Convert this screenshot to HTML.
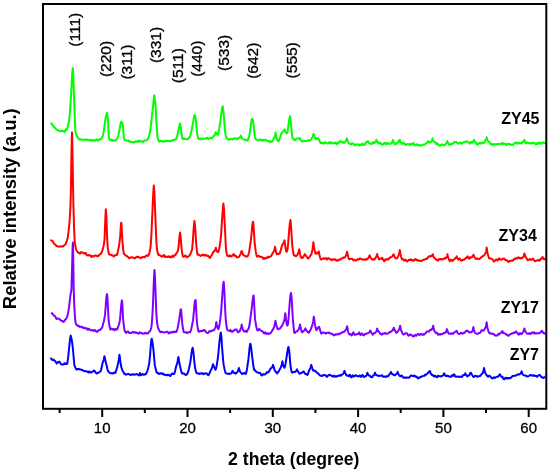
<!DOCTYPE html>
<html><head><meta charset="utf-8"><style>
html,body{margin:0;padding:0;background:#fff;}
svg{display:block;}
text{font-family:"Liberation Sans",Arial,sans-serif;}
</style></head><body>
<svg width="550" height="472" viewBox="0 0 550 472">
<rect width="550" height="472" fill="#fff"/>
<defs><clipPath id="c"><rect x="44" y="5" width="501.5" height="403"/></clipPath></defs>
<g clip-path="url(#c)" fill="none" stroke-width="2" stroke-linejoin="round" stroke-linecap="round">
<path stroke="#00ff00" d="M51.2,123.3 L51.8,124.3 L52.4,124.9 L53.0,125.4 L53.6,126.5 L54.2,127.2 L54.8,127.6 L55.4,128.3 L56.0,128.9 L56.6,129.4 L57.2,129.9 L57.8,130.3 L58.4,130.4 L59.0,130.6 L59.6,131.0 L60.2,131.4 L60.8,131.3 L61.4,130.9 L62.0,130.7 L62.6,130.9 L63.2,131.1 L63.8,131.3 L64.4,132.0 L65.0,131.4 L65.6,129.6 L66.2,129.9 L66.8,129.4 L67.4,127.8 L68.0,125.5 L68.6,122.8 L69.2,119.7 L69.8,113.8 L70.4,105.1 L71.0,96.1 L71.6,85.2 L72.2,73.9 L72.8,68.1 L73.4,78.0 L74.0,96.7 L74.3,105.0 L74.6,112.9 L75.2,128.4 L75.5,131.9 L75.8,132.9 L76.4,134.7 L77.0,136.3 L77.6,137.3 L78.2,138.1 L78.8,139.0 L79.4,139.6 L80.0,139.5 L80.6,139.2 L81.2,139.6 L81.8,139.7 L82.4,139.8 L83.0,139.7 L83.6,140.1 L84.2,139.9 L84.8,139.3 L85.4,139.6 L86.0,140.1 L86.6,140.1 L87.2,139.5 L87.8,139.4 L88.4,139.9 L89.0,140.1 L89.6,140.4 L90.2,140.3 L90.8,139.6 L91.4,140.3 L92.0,140.9 L92.6,140.2 L93.2,139.9 L93.8,140.5 L94.4,140.8 L95.0,140.7 L95.6,140.0 L96.2,139.4 L96.8,139.8 L97.4,140.2 L98.0,140.7 L98.6,140.1 L99.2,139.2 L99.8,139.1 L100.4,139.5 L101.0,139.0 L101.4,138.3 L101.6,138.2 L102.2,137.3 L102.8,135.9 L103.1,135.0 L103.4,133.5 L104.0,129.3 L104.6,124.6 L105.0,122.0 L105.2,120.7 L105.8,117.2 L106.4,114.3 L106.9,112.8 L107.6,116.6 L108.2,123.0 L108.7,136.1 L109.4,139.1 L109.6,139.6 L110.0,140.1 L110.6,140.0 L111.2,139.5 L111.8,139.7 L112.4,140.9 L113.0,140.6 L113.6,140.1 L113.8,140.4 L114.2,140.6 L114.8,140.7 L115.4,140.3 L116.0,139.7 L116.5,139.3 L117.2,138.6 L117.5,138.1 L117.8,137.6 L118.4,135.3 L119.0,132.1 L119.2,131.0 L119.6,129.2 L120.2,125.7 L120.4,124.4 L120.8,122.7 L121.3,121.6 L122.0,122.4 L122.6,124.1 L123.2,128.9 L123.8,137.8 L124.4,139.3 L125.0,140.2 L125.5,140.3 L126.2,140.3 L126.8,140.4 L127.4,140.6 L128.0,140.8 L128.6,140.5 L129.2,140.9 L129.8,141.9 L130.0,141.8 L130.4,141.6 L131.0,141.9 L131.6,141.7 L132.2,141.9 L132.8,142.3 L133.4,142.2 L134.0,141.8 L134.6,142.2 L135.2,141.8 L135.8,141.2 L136.4,141.2 L137.0,141.7 L137.6,142.1 L138.0,141.4 L138.2,141.0 L138.8,140.5 L139.4,141.2 L140.0,141.8 L140.6,141.3 L141.2,141.0 L141.8,141.3 L142.4,141.6 L143.0,141.9 L143.2,142.1 L143.6,141.3 L144.2,140.6 L144.8,140.5 L145.4,140.5 L146.0,140.4 L146.6,140.2 L147.2,139.6 L147.4,139.2 L147.8,139.2 L148.4,137.6 L148.6,137.0 L149.0,136.0 L149.6,133.7 L150.2,130.5 L150.5,128.6 L150.8,126.6 L151.4,121.4 L152.0,115.5 L152.3,112.5 L152.6,109.9 L153.2,104.8 L153.8,98.2 L154.2,95.3 L154.4,96.1 L155.0,100.2 L155.4,104.0 L155.6,106.4 L156.2,117.9 L156.6,124.9 L156.8,127.9 L157.4,135.8 L157.8,138.5 L158.0,139.0 L158.6,140.7 L159.2,141.6 L159.7,141.0 L160.4,141.0 L161.0,141.0 L161.6,140.9 L162.2,141.1 L162.8,141.9 L163.4,141.3 L164.0,141.2 L164.6,141.5 L165.0,141.2 L165.2,141.1 L165.8,141.1 L166.4,141.0 L167.0,140.7 L167.6,140.9 L168.2,141.1 L168.8,141.1 L169.4,141.1 L170.0,141.1 L170.6,141.3 L171.2,140.9 L171.8,140.6 L172.0,140.4 L172.4,140.1 L173.0,140.0 L173.6,140.2 L174.2,139.6 L174.8,139.4 L175.4,139.5 L176.0,139.0 L176.4,138.2 L176.6,137.7 L177.2,136.1 L177.8,133.3 L178.4,130.3 L179.0,127.6 L179.6,124.7 L180.0,123.4 L180.2,124.2 L180.8,127.3 L181.4,132.0 L182.0,136.5 L182.6,139.3 L183.2,138.8 L183.8,138.3 L184.4,138.9 L185.0,139.0 L185.6,139.1 L186.2,139.2 L186.5,139.2 L186.8,139.2 L187.4,139.0 L188.0,138.9 L188.6,138.2 L189.2,137.5 L189.5,137.5 L189.8,137.1 L190.4,135.2 L191.0,132.9 L191.6,130.2 L192.2,127.1 L192.8,123.9 L193.4,120.3 L194.0,117.1 L194.6,115.1 L194.9,115.2 L195.2,115.7 L195.8,119.9 L196.4,126.4 L197.0,132.6 L197.6,136.2 L198.2,138.3 L198.8,139.0 L199.0,138.7 L199.4,139.3 L200.0,138.8 L200.6,138.2 L201.2,139.1 L201.8,139.4 L202.4,138.8 L203.0,138.8 L203.6,138.8 L204.2,138.6 L204.8,138.8 L205.4,138.8 L206.0,138.1 L206.6,137.8 L207.2,138.0 L207.8,138.3 L208.0,138.8 L208.4,138.9 L209.0,138.8 L209.6,138.5 L210.2,138.1 L210.8,137.8 L211.4,138.2 L212.0,138.2 L212.6,137.2 L213.2,136.4 L213.8,136.0 L214.4,135.4 L214.9,134.9 L215.6,132.3 L216.2,133.4 L216.8,134.3 L217.4,134.7 L217.8,134.9 L218.0,134.6 L218.6,132.3 L219.2,128.8 L219.8,124.7 L220.0,123.5 L220.4,120.9 L221.0,116.2 L221.6,111.4 L222.2,107.8 L222.7,106.3 L223.4,110.8 L224.0,118.0 L224.6,126.1 L225.2,132.6 L225.5,134.4 L225.8,135.5 L226.4,137.3 L227.0,138.4 L227.3,138.6 L227.6,138.9 L228.2,139.6 L228.8,139.8 L229.4,139.4 L230.0,139.0 L230.6,138.5 L231.2,139.0 L231.8,139.2 L232.4,139.6 L233.0,139.4 L233.6,138.2 L234.2,138.4 L234.8,138.6 L235.4,138.8 L236.0,138.3 L236.6,138.5 L237.2,139.0 L237.8,139.0 L238.4,138.4 L239.0,137.7 L239.6,137.5 L240.1,137.5 L240.8,135.6 L241.4,137.1 L242.0,138.2 L242.6,139.0 L243.2,139.4 L243.8,139.6 L244.4,139.7 L245.0,139.5 L245.6,139.8 L246.2,139.9 L246.8,140.4 L247.4,140.5 L247.7,139.8 L248.0,139.7 L248.6,138.2 L249.2,136.0 L249.8,132.8 L250.4,128.7 L251.0,124.3 L251.6,119.7 L252.1,118.7 L252.8,119.6 L253.4,122.9 L254.0,128.1 L254.6,135.4 L254.8,136.7 L255.2,138.1 L255.8,139.2 L256.4,139.4 L257.0,139.6 L257.6,140.0 L258.2,140.4 L258.8,140.2 L259.4,140.0 L260.0,139.4 L260.6,139.4 L261.2,139.9 L261.8,140.5 L262.4,140.2 L263.0,139.8 L263.6,140.2 L264.2,140.5 L264.5,140.1 L264.8,139.9 L265.4,139.8 L266.0,139.7 L266.6,140.5 L267.2,140.9 L267.8,141.1 L268.4,141.4 L269.0,141.1 L269.6,141.1 L270.0,141.9 L270.2,142.3 L270.8,141.5 L271.4,141.5 L272.0,141.5 L272.6,140.8 L273.2,140.0 L273.8,138.5 L274.4,137.3 L274.8,136.9 L275.0,136.0 L275.5,132.5 L276.2,136.6 L276.8,138.7 L277.4,140.3 L278.0,141.0 L278.2,141.3 L278.6,140.9 L279.2,139.7 L279.8,138.1 L280.4,136.3 L281.0,134.6 L281.6,133.1 L281.8,132.8 L282.2,132.4 L282.8,131.6 L283.4,131.1 L283.8,130.8 L284.0,130.2 L284.5,129.2 L285.2,131.2 L285.8,132.4 L286.4,133.2 L286.9,133.3 L287.6,131.5 L288.2,127.2 L288.8,122.3 L289.4,118.3 L290.0,116.2 L290.6,119.5 L291.2,125.7 L291.8,132.6 L292.4,137.6 L292.7,138.4 L293.0,138.2 L293.6,138.7 L294.2,139.5 L294.8,140.2 L295.4,139.8 L296.0,139.1 L296.4,138.8 L296.6,138.6 L297.2,138.4 L297.8,138.5 L298.4,138.7 L298.9,138.8 L299.6,138.0 L300.2,139.2 L300.8,140.3 L301.4,140.8 L302.0,141.5 L302.6,141.6 L303.2,141.0 L303.8,141.1 L304.4,141.0 L305.0,140.8 L305.6,140.9 L306.2,141.1 L306.8,141.1 L307.3,140.6 L308.0,140.5 L308.6,140.2 L309.2,140.5 L309.8,140.5 L310.4,140.0 L311.0,139.4 L311.6,138.7 L312.2,137.6 L312.8,136.8 L313.4,133.9 L313.6,133.9 L314.0,134.8 L314.3,136.4 L314.6,136.8 L315.2,138.1 L315.8,139.1 L316.4,139.0 L317.0,138.3 L317.6,137.9 L318.2,138.3 L318.8,139.1 L319.4,140.5 L320.0,142.0 L320.6,143.1 L320.9,143.0 L321.2,142.4 L321.8,142.9 L322.4,143.0 L323.0,143.1 L323.6,143.8 L324.2,142.8 L324.8,142.1 L325.4,142.6 L326.0,143.3 L326.6,143.1 L327.2,143.4 L327.8,143.6 L328.4,143.0 L329.0,142.3 L329.6,142.8 L330.0,143.4 L330.2,142.5 L330.8,142.2 L331.4,142.9 L332.0,143.4 L332.6,143.4 L333.2,143.1 L333.8,142.7 L334.4,143.2 L335.0,143.0 L335.6,142.5 L336.2,143.7 L336.8,144.1 L337.4,142.9 L338.0,142.9 L338.6,143.1 L339.2,141.8 L339.8,141.0 L340.4,141.4 L341.0,141.8 L341.6,142.2 L342.0,142.6 L342.2,142.4 L342.8,141.9 L343.4,142.5 L344.0,142.9 L344.6,142.5 L345.2,141.7 L345.8,141.0 L346.3,140.4 L347.0,138.4 L347.6,140.7 L348.2,142.1 L348.8,143.3 L349.4,143.9 L350.0,143.6 L350.6,144.1 L351.2,144.5 L351.8,143.7 L352.4,143.5 L353.0,143.4 L353.6,143.5 L354.2,144.7 L354.8,145.4 L355.4,145.1 L356.0,144.6 L356.6,144.4 L357.2,144.3 L357.8,144.3 L358.4,144.9 L359.0,145.4 L359.6,145.0 L360.0,144.3 L360.2,144.3 L360.8,144.7 L361.4,145.3 L362.0,144.4 L362.6,143.5 L363.2,144.3 L363.8,145.1 L364.4,144.7 L365.0,144.3 L365.6,143.4 L366.2,142.2 L366.8,141.8 L367.3,142.0 L368.0,141.3 L368.6,142.7 L369.2,143.2 L369.8,143.4 L370.4,143.8 L371.0,143.6 L371.6,143.6 L372.2,144.0 L372.8,143.1 L373.0,142.1 L373.4,143.0 L374.0,143.1 L374.6,142.2 L375.2,142.3 L375.7,142.0 L376.4,139.8 L377.0,141.5 L377.6,141.9 L378.2,142.7 L378.8,143.5 L379.4,143.3 L380.0,142.6 L380.6,142.9 L381.2,144.1 L381.8,144.8 L382.0,144.3 L382.4,144.3 L383.0,144.6 L383.6,143.9 L384.2,143.1 L384.8,142.7 L385.4,143.5 L386.0,144.3 L386.6,143.3 L387.2,143.0 L387.8,142.9 L388.0,143.6 L388.4,144.0 L389.0,143.7 L389.6,143.8 L390.2,143.6 L390.8,143.4 L391.4,143.3 L392.0,142.6 L392.3,141.8 L392.6,141.0 L393.0,139.9 L393.2,140.6 L393.7,142.1 L394.4,143.7 L395.0,144.2 L395.6,143.7 L396.0,143.8 L396.2,143.9 L396.8,142.9 L397.4,142.7 L398.0,142.6 L398.6,141.6 L398.9,141.1 L399.2,140.5 L399.6,139.9 L399.8,140.0 L400.3,141.8 L401.0,142.8 L401.6,143.4 L402.2,143.9 L402.8,143.6 L403.0,142.9 L403.4,142.7 L404.0,143.1 L404.6,144.0 L405.2,144.9 L405.8,144.8 L406.4,144.3 L407.0,144.1 L407.6,144.3 L408.2,144.5 L408.8,144.3 L409.4,144.0 L410.0,144.7 L410.6,144.9 L411.2,144.0 L411.8,143.8 L412.4,143.6 L413.0,144.0 L413.6,143.6 L414.0,143.2 L414.2,144.4 L414.8,145.4 L415.4,145.2 L416.0,145.2 L416.6,144.7 L417.2,144.2 L417.8,145.0 L418.4,145.0 L419.0,144.9 L419.6,145.7 L420.0,145.8 L420.2,145.6 L420.8,145.7 L421.4,145.3 L422.0,145.2 L422.6,144.9 L423.2,144.6 L423.8,144.4 L424.4,144.6 L425.0,144.5 L425.6,144.0 L426.2,143.1 L426.8,142.8 L427.4,142.4 L428.0,141.2 L428.6,141.4 L429.2,142.4 L429.8,142.4 L430.4,142.1 L431.0,141.5 L431.6,141.1 L431.9,140.5 L432.2,139.8 L432.6,138.3 L432.8,139.7 L433.3,141.3 L434.0,141.8 L434.6,141.6 L435.2,142.3 L435.8,143.4 L436.0,143.9 L436.4,143.7 L437.0,143.3 L437.6,143.6 L438.2,144.8 L438.8,144.8 L439.4,145.6 L440.0,146.0 L440.6,145.2 L441.2,144.7 L441.8,144.6 L442.2,144.4 L442.4,144.8 L443.0,145.0 L443.6,145.1 L444.2,145.3 L444.8,145.0 L445.4,144.2 L446.0,143.7 L446.6,142.7 L447.2,141.1 L447.8,142.1 L448.0,142.5 L448.4,143.5 L449.0,144.5 L449.6,144.9 L450.2,144.8 L450.4,144.5 L450.8,144.0 L451.4,143.8 L452.0,144.1 L452.6,143.7 L453.2,143.1 L453.8,142.8 L454.4,142.1 L455.0,142.0 L455.5,142.0 L456.2,141.9 L456.8,142.2 L457.4,143.1 L458.0,143.6 L458.6,143.7 L459.2,143.2 L459.8,142.6 L460.4,142.6 L460.7,142.7 L461.0,143.5 L461.6,143.9 L462.2,143.3 L462.8,142.6 L463.4,142.4 L464.0,142.2 L464.6,141.7 L465.2,141.9 L465.8,141.9 L466.4,141.5 L466.8,141.5 L467.0,141.6 L467.6,141.5 L468.2,141.9 L468.8,142.7 L469.4,143.3 L470.0,143.6 L470.6,142.3 L471.2,141.9 L471.8,142.8 L472.4,142.7 L473.0,141.6 L473.3,141.1 L473.6,141.0 L474.0,139.8 L474.2,140.6 L474.7,141.5 L475.4,142.3 L476.0,142.6 L476.6,143.6 L477.1,144.6 L477.8,144.2 L478.4,144.0 L479.0,143.4 L479.6,142.8 L480.2,142.8 L480.8,143.5 L481.4,143.6 L482.0,143.4 L482.3,142.6 L482.6,142.5 L483.2,142.7 L483.8,143.0 L484.4,142.5 L485.0,141.1 L485.6,139.9 L486.1,139.3 L486.8,137.4 L487.4,139.9 L488.0,141.0 L488.6,141.8 L489.2,142.0 L489.8,142.7 L490.4,144.0 L491.0,144.4 L491.6,144.1 L492.2,143.9 L492.8,144.8 L493.4,145.1 L494.0,144.2 L494.6,144.1 L495.2,144.3 L495.8,144.5 L496.4,144.5 L497.0,144.1 L497.6,143.9 L498.2,144.0 L498.8,143.9 L499.4,143.9 L500.0,144.1 L500.6,144.1 L501.2,143.6 L501.8,143.6 L502.1,143.9 L502.4,143.3 L502.8,142.9 L503.0,143.3 L503.5,143.9 L504.2,143.9 L504.8,143.8 L505.4,143.6 L506.0,144.4 L506.6,145.1 L507.2,144.5 L507.8,143.8 L508.4,144.0 L509.0,144.0 L509.6,144.2 L510.0,144.2 L510.2,144.2 L510.8,144.8 L511.4,144.8 L512.0,144.7 L512.6,144.8 L513.2,144.9 L513.8,144.3 L514.4,143.2 L515.0,142.8 L515.6,142.3 L516.2,142.7 L516.8,143.4 L517.2,143.7 L517.4,143.5 L518.0,142.8 L518.6,142.7 L519.2,142.9 L519.8,143.4 L520.4,143.2 L521.0,143.1 L521.6,143.6 L522.2,142.5 L522.8,141.6 L523.4,141.6 L523.7,141.6 L524.0,140.7 L524.4,139.9 L524.6,140.3 L525.1,141.7 L525.8,142.9 L526.4,143.3 L527.0,142.7 L527.5,142.3 L528.2,142.6 L528.8,143.2 L529.4,143.4 L530.0,143.2 L530.6,142.9 L531.2,143.5 L531.8,143.6 L532.4,142.7 L533.0,142.7 L533.6,143.1 L534.2,142.9 L534.8,143.2 L535.4,144.1 L536.0,144.2 L536.6,143.5 L537.2,143.2 L537.7,144.0 L538.4,143.4 L539.0,142.6 L539.6,142.5 L540.2,143.1 L540.8,144.0 L541.4,143.6 L542.0,142.7 L542.6,142.2 L543.2,142.9 L543.8,142.6 L544.4,142.7 L545.0,143.3 L545.6,143.3 L546.0,143.7"/>
<path stroke="#ff0000" d="M51.2,240.2 L51.8,240.7 L52.4,241.1 L53.0,241.6 L53.6,243.2 L54.2,244.0 L54.5,243.9 L54.8,244.2 L55.4,244.8 L56.0,245.3 L56.6,246.1 L57.2,246.3 L57.8,246.2 L58.0,246.2 L58.4,246.6 L59.0,246.8 L59.6,246.7 L60.2,246.4 L60.8,246.3 L61.4,246.3 L62.0,246.8 L62.6,246.6 L63.2,246.2 L63.8,245.6 L64.4,244.9 L65.0,244.9 L65.6,244.2 L66.2,242.4 L66.8,240.8 L67.4,239.0 L68.0,236.0 L68.6,231.2 L69.1,226.1 L69.8,218.3 L70.2,212.0 L70.4,207.3 L70.9,190.0 L71.6,146.6 L72.0,132.5 L72.2,136.5 L72.8,172.1 L73.1,190.0 L73.4,203.7 L73.6,212.0 L74.0,226.4 L74.6,239.3 L74.9,243.1 L75.2,245.3 L75.8,248.2 L76.2,249.7 L76.4,250.3 L77.0,251.2 L77.6,252.0 L78.2,252.7 L78.8,252.7 L79.4,253.2 L80.0,253.7 L80.6,252.8 L80.9,252.1 L81.2,252.1 L81.8,252.6 L82.4,252.7 L83.0,252.8 L83.6,253.3 L84.2,253.6 L84.8,253.2 L85.4,252.9 L86.0,253.3 L86.4,254.6 L86.6,255.1 L87.2,255.4 L87.8,255.2 L88.4,255.1 L89.0,255.6 L89.6,255.6 L90.2,255.2 L90.8,255.8 L91.4,256.9 L91.8,256.9 L92.0,256.4 L92.6,256.0 L93.2,256.0 L93.8,256.4 L94.4,256.1 L95.0,255.6 L95.6,255.6 L96.2,255.5 L96.8,256.0 L97.4,256.2 L98.0,255.8 L98.4,256.0 L98.6,255.6 L99.2,255.1 L99.8,254.6 L100.4,254.1 L101.0,253.6 L101.6,252.5 L102.2,250.9 L102.7,249.4 L103.4,246.8 L104.0,243.6 L104.4,240.8 L104.6,238.1 L105.2,221.7 L105.8,209.2 L106.4,215.8 L107.0,233.7 L107.6,246.4 L108.2,250.7 L108.8,253.5 L109.3,254.5 L110.0,254.7 L110.6,254.7 L111.2,254.7 L111.8,255.4 L112.4,255.4 L113.0,255.4 L113.6,256.4 L114.2,256.3 L114.8,255.5 L115.4,255.0 L116.0,254.9 L116.6,254.7 L116.9,254.9 L117.2,254.2 L117.8,251.8 L118.4,248.9 L119.0,245.7 L119.6,241.6 L120.2,236.4 L120.8,226.2 L121.2,222.7 L121.4,223.3 L122.0,234.1 L122.4,240.9 L122.6,243.1 L123.2,249.5 L123.8,253.6 L124.0,254.0 L124.4,254.2 L125.0,254.8 L125.6,255.4 L126.2,255.8 L126.7,256.0 L127.4,256.3 L128.0,257.0 L128.6,257.6 L129.2,258.3 L129.5,258.3 L129.8,258.0 L130.4,257.4 L131.0,257.5 L131.6,257.3 L132.2,257.3 L132.8,257.6 L133.4,257.7 L134.0,258.0 L134.6,258.3 L135.2,258.2 L135.8,257.5 L136.4,256.8 L137.0,256.9 L137.6,256.9 L138.2,256.6 L138.8,257.4 L139.4,257.5 L140.0,257.5 L140.6,258.0 L141.2,258.0 L141.8,257.4 L142.4,256.9 L143.0,257.2 L143.6,257.1 L144.2,256.8 L144.8,257.2 L145.4,256.6 L146.0,255.7 L146.6,255.6 L147.2,255.5 L147.8,255.9 L148.4,255.4 L148.6,254.6 L149.0,254.1 L149.6,252.2 L150.2,248.9 L150.7,245.5 L151.4,234.7 L152.0,220.9 L152.5,210.2 L153.2,194.4 L153.8,185.4 L154.4,192.1 L155.0,207.9 L155.6,222.4 L156.2,237.8 L156.8,248.2 L157.4,251.5 L158.0,253.7 L158.6,255.0 L159.2,254.8 L159.8,255.3 L160.4,255.8 L161.0,256.1 L161.6,256.2 L162.2,256.7 L162.8,256.4 L163.4,255.2 L164.0,255.0 L164.6,256.2 L165.0,257.1 L165.2,256.9 L165.8,256.5 L166.4,256.6 L167.0,256.9 L167.6,256.9 L168.2,256.5 L168.8,256.3 L169.4,257.2 L170.0,257.1 L170.6,256.6 L171.2,257.5 L171.8,257.2 L172.4,255.9 L173.0,255.5 L173.3,256.4 L173.6,256.6 L174.2,255.7 L174.8,255.1 L175.4,255.0 L176.0,253.9 L176.6,253.0 L177.2,252.3 L177.8,250.8 L178.2,249.3 L178.4,248.1 L179.0,242.1 L179.6,235.4 L180.1,232.5 L180.8,238.5 L181.4,246.6 L181.8,250.4 L182.0,251.8 L182.6,255.2 L183.1,256.7 L183.8,256.8 L184.4,256.2 L185.0,255.6 L185.6,255.6 L186.2,256.5 L186.8,257.2 L187.4,257.1 L188.0,256.9 L188.6,256.3 L189.2,255.8 L189.8,254.9 L190.4,253.8 L191.0,252.8 L191.6,250.9 L192.1,248.9 L192.8,242.0 L193.4,232.5 L194.0,224.1 L194.5,221.0 L195.2,227.4 L195.8,237.6 L196.4,246.4 L197.0,251.5 L197.6,254.8 L197.8,254.2 L198.2,254.5 L198.8,254.8 L199.4,255.0 L200.0,255.4 L200.6,255.9 L201.2,255.5 L201.8,255.0 L202.4,254.9 L202.7,254.8 L203.0,255.4 L203.6,255.1 L204.2,254.7 L204.8,255.5 L205.4,255.6 L206.0,254.9 L206.6,255.5 L207.2,256.0 L207.8,255.8 L208.4,256.0 L209.0,256.6 L209.3,257.3 L209.6,257.9 L210.2,257.7 L210.8,256.5 L211.4,255.7 L212.0,254.6 L212.6,253.5 L213.2,252.1 L213.4,251.6 L213.8,251.4 L214.4,251.2 L215.0,250.4 L215.6,248.1 L215.8,247.7 L216.2,248.6 L216.5,250.0 L216.8,250.8 L217.4,251.9 L217.8,251.9 L218.0,252.1 L218.6,251.2 L219.2,248.7 L219.8,245.3 L220.4,241.5 L221.0,235.6 L221.6,226.6 L222.1,219.4 L222.8,209.3 L223.4,203.5 L224.0,208.7 L224.6,221.7 L224.9,227.7 L225.2,233.5 L225.8,245.6 L226.2,250.5 L226.4,251.9 L227.0,254.8 L227.3,255.7 L227.6,255.7 L228.2,256.0 L228.8,256.4 L229.4,255.9 L230.0,255.3 L230.5,255.9 L231.2,256.5 L231.8,256.1 L232.4,255.5 L233.0,254.8 L233.6,254.1 L233.8,254.3 L234.2,254.8 L234.5,255.8 L234.8,255.6 L235.4,255.5 L236.0,256.0 L236.6,257.0 L237.1,257.4 L237.8,257.3 L238.4,257.1 L239.0,256.8 L239.6,255.9 L240.2,254.6 L240.8,253.8 L241.0,253.4 L241.4,251.3 L241.7,251.1 L242.0,251.3 L242.4,252.9 L242.6,253.3 L243.2,254.9 L243.6,255.1 L243.8,255.3 L244.4,255.6 L245.0,255.9 L245.6,256.0 L246.2,256.6 L246.8,256.7 L247.4,256.2 L247.7,256.1 L248.0,255.5 L248.6,254.0 L249.2,251.4 L249.8,247.6 L250.4,243.4 L251.0,239.1 L251.6,233.3 L252.2,226.4 L252.8,222.0 L253.0,221.7 L253.4,223.7 L254.0,232.6 L254.6,242.0 L254.8,244.1 L255.2,247.4 L255.8,251.9 L256.4,254.8 L256.7,256.0 L257.0,256.6 L257.6,256.2 L258.2,255.8 L258.8,255.8 L259.1,256.3 L259.4,256.5 L260.0,256.9 L260.6,256.8 L261.2,256.7 L261.8,257.1 L262.4,257.3 L263.0,257.6 L263.2,258.8 L263.6,258.6 L264.2,258.1 L264.8,258.8 L265.4,258.4 L266.0,257.7 L266.6,258.0 L267.2,257.8 L267.8,257.0 L268.4,256.7 L269.0,257.3 L269.6,257.1 L270.2,256.4 L270.8,256.3 L271.4,255.6 L272.0,254.4 L272.2,254.0 L272.6,253.4 L273.2,252.3 L273.8,251.5 L274.3,250.4 L275.0,246.8 L275.6,250.2 L276.2,252.7 L276.8,254.4 L277.1,254.2 L277.4,254.0 L278.0,254.1 L278.6,254.1 L279.2,253.6 L279.5,253.5 L279.8,253.4 L280.4,251.4 L281.0,249.2 L281.6,246.9 L282.2,245.1 L282.5,244.5 L282.8,243.9 L283.4,243.2 L283.8,242.3 L284.0,241.4 L284.5,240.4 L285.2,245.8 L285.8,249.3 L286.4,251.7 L286.9,251.5 L287.6,249.1 L288.2,242.9 L288.8,235.1 L289.4,227.6 L290.0,222.1 L290.5,219.9 L291.2,227.8 L291.8,239.1 L292.3,245.8 L293.0,251.0 L293.6,254.5 L294.2,255.6 L294.8,255.4 L295.4,255.8 L296.0,256.2 L296.6,255.7 L297.2,255.1 L297.8,254.1 L298.4,252.6 L299.0,249.9 L299.2,249.4 L299.6,251.1 L299.9,253.1 L300.2,254.5 L300.8,256.8 L301.1,257.0 L301.4,257.9 L302.0,258.1 L302.6,257.9 L303.2,256.8 L303.8,256.0 L304.2,255.4 L304.4,255.1 L304.9,254.1 L305.6,255.4 L306.2,256.2 L306.8,257.0 L307.4,257.6 L308.0,258.2 L308.2,258.6 L308.6,258.2 L309.2,257.4 L309.8,256.5 L310.4,255.5 L310.6,255.3 L311.0,254.9 L311.6,253.3 L312.2,250.7 L312.7,248.2 L313.4,242.2 L314.0,246.9 L314.6,250.0 L315.2,252.7 L315.8,253.8 L316.4,252.8 L317.0,253.0 L317.6,253.2 L318.1,252.8 L318.8,251.4 L319.4,254.7 L320.0,257.3 L320.6,259.0 L320.8,259.4 L321.2,259.5 L321.8,259.0 L322.4,259.0 L323.0,258.7 L323.6,258.2 L324.2,258.3 L324.8,258.9 L325.4,258.6 L326.0,258.1 L326.6,258.4 L327.0,259.6 L327.2,259.5 L327.8,258.7 L328.4,258.2 L329.0,258.3 L329.6,259.1 L330.2,259.3 L330.8,259.2 L331.4,260.1 L332.0,260.2 L332.6,259.3 L333.2,259.2 L333.8,259.5 L334.4,259.8 L335.0,259.4 L335.6,259.2 L336.2,260.3 L336.8,260.6 L337.4,260.7 L338.0,260.5 L338.6,259.7 L339.2,259.6 L339.8,259.7 L340.4,259.5 L341.0,258.8 L341.6,258.4 L342.2,258.4 L342.8,258.1 L343.4,257.7 L343.8,257.4 L344.0,257.8 L344.6,257.5 L345.2,256.8 L345.8,255.9 L346.4,254.7 L347.0,251.8 L347.6,253.8 L347.8,254.8 L348.2,256.5 L348.8,258.7 L349.2,259.3 L349.4,259.1 L350.0,259.0 L350.6,259.1 L351.2,258.9 L351.8,258.6 L352.4,259.1 L353.0,260.0 L353.6,260.4 L354.2,259.9 L354.8,259.8 L355.3,260.2 L356.0,260.4 L356.6,260.3 L357.2,259.6 L357.8,259.1 L358.4,259.4 L359.0,259.4 L359.6,258.6 L360.2,258.6 L360.8,258.7 L361.4,259.2 L362.0,259.3 L362.6,259.5 L363.2,259.5 L363.8,259.6 L364.4,259.7 L365.0,259.8 L365.6,259.5 L365.8,258.9 L366.2,258.9 L366.8,259.5 L367.4,259.3 L368.0,258.3 L368.6,257.5 L368.9,256.7 L369.2,256.1 L369.6,255.3 L369.8,256.0 L370.3,257.1 L371.0,258.1 L371.6,259.1 L372.2,259.0 L372.5,259.4 L372.8,259.7 L373.4,259.3 L374.0,259.5 L374.6,259.4 L375.2,258.1 L375.8,257.3 L376.4,256.6 L377.0,254.7 L377.2,254.0 L377.6,255.7 L377.9,256.7 L378.2,257.2 L378.8,258.8 L379.1,259.5 L379.4,259.4 L380.0,258.7 L380.6,258.7 L381.2,258.7 L381.8,258.1 L382.0,257.7 L382.4,258.1 L382.7,259.1 L383.0,259.6 L383.6,260.6 L384.2,261.2 L384.8,260.2 L385.4,259.4 L386.0,259.9 L386.6,259.6 L387.2,259.0 L387.8,259.0 L388.4,259.4 L389.0,258.6 L389.6,257.7 L390.2,257.5 L390.8,257.3 L391.4,257.2 L392.0,256.6 L392.6,255.9 L392.8,255.8 L393.2,254.5 L393.5,254.3 L393.8,254.7 L394.2,255.8 L394.4,256.1 L395.0,257.3 L395.6,258.3 L396.2,258.6 L396.8,258.3 L397.4,257.6 L398.0,256.7 L398.6,255.3 L399.1,253.8 L399.8,249.9 L400.4,253.6 L401.0,256.3 L401.6,258.4 L402.0,259.2 L402.2,259.1 L402.8,258.9 L403.4,259.4 L404.0,260.5 L404.6,260.4 L405.2,259.5 L405.8,259.9 L406.4,261.2 L407.0,261.4 L407.6,260.9 L408.2,260.6 L408.7,259.8 L409.4,260.1 L410.0,260.2 L410.6,259.3 L411.2,259.5 L411.8,260.5 L412.4,260.6 L413.0,260.0 L413.6,260.2 L414.2,260.6 L414.8,259.6 L415.4,259.0 L416.0,259.3 L416.4,259.8 L416.6,260.3 L417.2,259.9 L417.8,260.0 L418.4,260.8 L419.0,260.4 L419.6,260.4 L420.2,260.9 L420.8,260.9 L421.4,260.8 L422.0,260.8 L422.6,260.3 L423.2,259.7 L423.8,259.7 L424.4,259.7 L425.0,259.4 L425.6,259.0 L426.2,258.7 L426.8,259.0 L427.4,258.5 L427.8,257.2 L428.0,257.2 L428.6,256.7 L429.2,256.1 L429.8,256.6 L430.4,256.5 L431.0,256.0 L431.6,255.8 L431.9,256.0 L432.2,255.1 L432.6,254.4 L432.8,254.3 L433.3,256.2 L434.0,257.4 L434.6,258.1 L435.2,258.6 L435.5,258.8 L435.8,259.3 L436.4,259.7 L437.0,259.9 L437.6,260.6 L438.2,260.6 L438.8,259.1 L439.4,259.1 L440.0,259.3 L440.6,259.0 L441.2,258.9 L441.8,259.4 L442.4,259.4 L443.0,259.1 L443.6,259.0 L444.2,258.4 L444.8,257.9 L445.4,258.4 L446.0,257.9 L446.6,257.1 L446.8,257.2 L447.2,255.8 L447.5,254.2 L447.8,255.9 L448.2,257.3 L448.4,257.8 L449.0,259.5 L449.6,260.9 L449.8,261.3 L450.2,260.5 L450.8,259.8 L451.4,260.0 L452.0,260.8 L452.6,260.9 L453.2,260.1 L453.8,259.4 L454.4,259.3 L455.0,258.6 L455.6,258.0 L456.0,257.8 L456.2,257.5 L456.7,256.4 L457.4,258.1 L458.0,259.3 L458.6,259.7 L459.2,258.5 L459.8,258.6 L460.4,259.7 L461.0,260.4 L461.6,260.8 L462.2,260.1 L462.8,259.7 L463.4,260.0 L464.0,259.8 L464.6,259.2 L465.2,258.7 L465.8,257.9 L466.4,257.7 L466.8,257.9 L467.0,257.3 L467.5,256.3 L468.2,257.5 L468.8,258.2 L469.4,258.8 L469.8,258.4 L470.0,257.3 L470.6,257.3 L471.2,257.6 L471.8,257.4 L472.4,256.4 L472.7,255.9 L473.0,255.5 L473.4,254.9 L473.6,254.7 L474.1,256.4 L474.8,257.8 L475.4,258.3 L476.0,259.0 L476.3,258.9 L476.6,258.4 L477.2,258.6 L477.8,258.7 L478.4,258.9 L479.0,259.1 L479.6,259.0 L480.2,258.2 L480.8,257.6 L481.2,257.2 L481.4,257.3 L482.0,257.0 L482.6,256.1 L483.2,255.9 L483.8,255.4 L484.4,254.8 L485.0,254.1 L485.6,253.1 L486.0,252.0 L486.2,250.8 L486.7,247.6 L487.4,252.4 L488.0,254.8 L488.6,256.9 L489.2,258.4 L489.5,258.6 L489.8,258.4 L490.4,258.4 L491.0,258.6 L491.6,258.7 L492.2,259.4 L492.8,259.7 L493.4,260.9 L494.0,261.6 L494.6,260.7 L495.0,260.7 L495.2,260.4 L495.8,259.6 L496.4,259.5 L497.0,260.2 L497.6,260.5 L498.2,259.7 L498.8,258.6 L499.4,258.5 L500.0,259.1 L500.6,259.7 L501.2,259.4 L501.8,259.3 L502.4,259.5 L502.8,258.9 L503.0,258.7 L503.6,258.5 L504.2,258.5 L504.8,259.4 L505.4,260.2 L506.0,260.4 L506.6,260.2 L507.2,260.5 L507.8,261.5 L508.4,261.9 L508.7,261.9 L509.0,261.2 L509.6,261.0 L510.2,260.9 L510.8,260.8 L511.4,260.6 L512.0,260.7 L512.6,260.8 L513.2,260.0 L513.8,259.1 L514.4,259.4 L515.0,259.2 L515.6,258.3 L516.2,258.0 L516.8,258.4 L517.4,258.5 L518.0,257.8 L518.6,257.3 L519.2,257.8 L519.8,258.4 L520.4,258.5 L521.0,257.8 L521.6,258.3 L522.2,258.1 L522.8,257.2 L523.4,256.8 L523.7,256.4 L524.0,255.0 L524.4,253.5 L524.6,253.9 L525.1,255.9 L525.8,257.1 L526.4,258.3 L527.0,259.0 L527.4,259.8 L527.6,260.1 L528.2,259.7 L528.8,259.7 L529.4,259.5 L530.0,259.1 L530.6,259.6 L531.2,259.9 L531.8,259.7 L532.4,259.0 L533.0,258.7 L533.6,259.5 L534.2,260.4 L534.8,261.0 L535.4,261.2 L536.0,261.0 L536.6,260.6 L537.2,260.4 L537.8,260.0 L538.4,260.1 L539.0,260.6 L539.6,260.8 L540.2,259.5 L540.8,258.7 L541.4,258.9 L541.8,258.5 L542.0,258.2 L542.5,257.0 L543.2,258.1 L543.8,259.1 L544.4,259.4 L545.0,259.1 L545.6,259.2 L546.0,259.2"/>
<path stroke="#7f00ff" d="M51.6,313.2 L52.2,313.3 L52.8,314.2 L53.4,315.0 L54.0,315.6 L54.6,316.0 L54.9,316.0 L55.2,316.4 L55.8,317.6 L56.4,318.9 L57.0,318.8 L57.6,318.5 L58.2,318.7 L58.8,318.8 L59.3,318.9 L60.0,319.6 L60.6,320.2 L61.2,320.6 L61.8,321.0 L62.4,321.0 L63.0,321.3 L63.6,322.0 L64.2,321.2 L64.8,320.1 L65.4,319.4 L65.8,319.3 L66.0,319.2 L66.6,317.8 L67.2,316.4 L67.5,315.7 L67.8,314.4 L68.4,311.1 L69.0,307.2 L69.6,302.4 L70.2,297.0 L70.4,295.5 L70.8,293.2 L71.4,290.0 L72.0,271.4 L72.6,247.1 L72.9,242.6 L73.2,255.1 L73.7,290.0 L74.3,306.3 L75.0,317.7 L75.6,322.8 L76.2,324.3 L76.8,325.1 L77.4,325.6 L77.8,325.9 L78.0,325.6 L78.6,325.7 L79.2,326.5 L79.8,327.0 L80.4,326.8 L81.0,326.8 L81.6,326.9 L82.2,326.7 L82.8,327.8 L83.4,328.1 L84.0,327.6 L84.6,328.0 L85.2,328.4 L85.8,328.6 L86.4,328.1 L87.0,328.5 L87.6,329.7 L88.2,329.7 L88.8,328.7 L89.4,329.1 L90.0,329.8 L90.6,330.1 L91.2,330.5 L91.8,330.0 L92.4,330.0 L93.0,330.2 L93.6,330.9 L94.2,330.8 L94.8,330.1 L95.4,330.2 L96.0,331.4 L96.6,331.8 L97.2,331.7 L97.5,331.7 L97.8,331.2 L98.4,330.4 L99.0,330.0 L99.6,330.0 L100.2,329.9 L100.8,328.9 L101.4,328.3 L101.6,328.4 L102.0,327.9 L102.6,326.1 L103.2,323.6 L103.5,322.4 L103.8,321.5 L104.4,318.8 L104.8,316.4 L105.0,314.7 L105.6,307.5 L106.2,299.4 L106.8,294.3 L107.0,294.1 L107.4,296.9 L108.0,308.5 L108.6,319.8 L108.8,321.8 L109.2,324.3 L109.8,327.5 L110.4,329.6 L110.6,329.4 L111.0,328.4 L111.6,328.6 L112.2,329.2 L112.8,329.2 L113.4,328.9 L114.0,330.0 L114.6,330.3 L115.2,329.1 L115.8,328.8 L116.0,329.2 L116.4,329.7 L117.0,329.4 L117.6,328.4 L118.2,326.6 L118.8,324.7 L119.4,322.6 L119.6,322.0 L120.0,319.2 L120.6,312.5 L121.2,305.3 L121.8,300.7 L122.0,300.4 L122.4,304.7 L123.0,317.2 L123.2,319.9 L123.6,323.6 L124.2,328.5 L124.8,331.1 L125.0,331.2 L125.4,332.2 L126.0,333.0 L126.6,332.3 L127.2,331.7 L127.8,331.4 L128.4,331.7 L129.0,332.7 L129.6,333.1 L130.2,332.9 L130.8,332.9 L131.4,332.9 L132.0,332.5 L132.6,331.9 L133.2,332.2 L133.8,332.6 L134.0,332.3 L134.4,332.2 L135.0,332.2 L135.6,332.6 L136.2,333.1 L136.8,332.7 L137.4,332.8 L138.0,333.3 L138.6,333.7 L139.2,333.4 L139.8,332.3 L140.4,332.7 L141.0,332.8 L141.6,333.0 L142.2,333.5 L142.8,333.8 L143.4,333.6 L144.0,333.5 L144.6,333.6 L144.8,333.0 L145.2,332.8 L145.8,333.0 L146.4,333.0 L147.0,333.6 L147.6,333.6 L148.2,333.2 L148.8,332.2 L149.4,331.4 L150.0,331.1 L150.6,329.9 L151.2,327.8 L151.4,327.0 L151.8,323.5 L152.2,318.1 L152.4,315.0 L153.0,303.6 L153.6,287.5 L153.9,279.9 L154.2,273.9 L154.5,270.0 L154.8,273.5 L155.4,288.0 L155.6,293.0 L156.0,304.8 L156.4,314.7 L156.6,317.2 L157.2,323.3 L157.8,327.0 L158.0,327.5 L158.4,328.7 L159.0,329.9 L159.6,331.1 L160.2,332.0 L160.5,332.3 L160.8,331.9 L161.4,331.7 L162.0,332.0 L162.6,332.0 L163.2,332.1 L163.8,332.4 L164.4,332.4 L165.0,332.3 L165.6,332.1 L166.2,331.9 L166.8,331.5 L167.4,331.9 L168.0,332.4 L168.6,333.4 L169.2,333.3 L169.8,332.1 L170.1,332.4 L170.4,332.5 L171.0,332.3 L171.6,332.7 L172.2,332.2 L172.8,331.6 L173.4,332.0 L174.0,332.3 L174.6,332.0 L175.2,331.6 L175.8,332.0 L176.4,331.8 L177.0,330.4 L177.6,328.2 L178.2,325.1 L178.8,321.8 L179.0,321.0 L179.4,318.3 L180.0,313.5 L180.6,309.7 L181.0,309.3 L181.2,310.0 L181.8,317.9 L182.3,324.1 L183.0,328.6 L183.6,331.3 L183.9,332.3 L184.2,331.9 L184.8,332.1 L185.4,332.4 L186.0,332.3 L186.6,332.3 L187.2,333.0 L187.8,332.8 L188.4,332.4 L189.0,332.0 L189.6,332.1 L190.2,332.2 L190.8,330.7 L191.4,328.4 L192.0,325.6 L192.6,322.5 L192.9,320.9 L193.2,318.8 L193.8,312.6 L194.4,305.6 L195.0,300.5 L195.4,300.1 L195.6,300.1 L196.2,309.2 L196.8,320.3 L197.0,322.7 L197.4,325.8 L198.0,329.8 L198.6,331.7 L199.2,331.6 L199.8,330.8 L200.4,331.2 L201.0,331.3 L201.6,330.8 L202.2,331.1 L202.8,330.8 L203.4,330.2 L204.0,330.1 L204.6,330.0 L205.2,330.9 L205.8,331.9 L206.4,332.1 L207.0,332.8 L207.6,332.9 L208.2,332.8 L208.8,332.0 L209.4,331.0 L210.0,331.3 L210.6,331.6 L211.2,330.9 L211.8,330.7 L212.4,330.9 L213.0,330.3 L213.4,329.7 L213.6,330.1 L214.2,329.8 L214.8,328.6 L215.4,327.3 L215.6,326.8 L216.0,324.1 L216.3,322.1 L216.6,323.6 L217.0,325.7 L217.2,326.5 L217.8,328.5 L218.3,329.2 L219.0,327.3 L219.6,324.0 L220.2,319.6 L220.7,315.8 L221.4,308.2 L222.0,299.3 L222.6,290.7 L223.2,284.2 L223.7,281.8 L224.4,291.5 L225.0,306.4 L225.6,317.7 L226.2,323.6 L226.8,328.1 L227.3,330.0 L228.0,330.4 L228.6,330.6 L229.2,331.1 L229.8,330.4 L230.4,329.9 L231.0,331.0 L231.6,331.7 L232.2,332.0 L232.8,331.1 L233.4,330.7 L234.0,330.7 L234.6,329.8 L235.2,329.6 L235.8,329.8 L236.3,329.4 L237.0,330.2 L237.6,331.8 L237.9,332.3 L238.2,331.9 L238.8,331.8 L239.4,331.4 L240.0,330.6 L240.6,328.9 L241.0,327.8 L241.2,327.0 L241.7,324.6 L242.4,328.1 L243.0,329.7 L243.6,330.9 L244.2,331.5 L244.8,331.6 L245.3,330.7 L246.0,331.6 L246.6,331.9 L247.2,330.9 L247.8,329.8 L248.4,328.9 L249.0,327.5 L249.6,324.3 L250.2,320.0 L250.8,315.4 L251.4,310.7 L251.8,307.8 L252.0,306.2 L252.6,300.7 L253.2,296.4 L253.5,295.4 L253.8,297.3 L254.4,308.0 L255.0,318.4 L255.6,322.6 L256.2,326.2 L256.8,328.9 L257.4,330.5 L258.0,330.5 L258.6,329.6 L259.2,328.9 L259.8,329.8 L260.4,330.4 L261.0,330.6 L261.6,331.0 L262.2,331.3 L262.8,331.7 L263.4,332.4 L264.0,333.4 L264.6,333.4 L264.8,332.7 L265.2,332.4 L265.8,333.1 L266.4,333.9 L267.0,333.5 L267.6,333.1 L268.2,333.7 L268.8,334.0 L269.4,333.6 L270.0,333.3 L270.5,333.2 L271.2,332.3 L271.8,331.3 L272.4,330.2 L273.0,329.4 L273.6,328.3 L274.2,326.6 L274.8,324.3 L275.4,320.8 L276.0,323.4 L276.2,324.5 L276.6,326.1 L277.2,328.2 L277.8,329.3 L278.4,328.9 L279.0,328.7 L279.6,328.8 L280.2,328.2 L280.8,327.3 L281.2,326.7 L281.4,326.6 L282.0,325.8 L282.6,324.4 L283.2,323.1 L283.8,321.8 L284.4,319.8 L284.6,319.1 L285.0,315.3 L285.3,313.2 L285.6,315.0 L286.0,319.2 L286.2,320.5 L286.8,324.6 L287.4,325.6 L288.0,324.0 L288.6,317.8 L289.2,309.7 L289.8,301.5 L290.4,295.3 L291.0,292.9 L291.6,297.6 L292.2,308.0 L292.8,318.5 L293.0,320.9 L293.4,325.3 L294.0,331.0 L294.3,332.7 L294.6,333.0 L295.2,332.6 L295.8,331.9 L296.4,331.5 L297.0,331.3 L297.5,330.8 L298.2,330.1 L298.8,328.8 L299.3,327.3 L300.0,324.5 L300.6,327.6 L301.2,330.1 L301.8,331.9 L302.4,332.4 L303.0,331.5 L303.6,330.7 L304.2,330.6 L304.7,330.1 L305.4,328.4 L306.0,330.2 L306.6,330.6 L307.2,331.4 L307.8,331.9 L308.4,332.0 L308.7,332.8 L309.0,332.6 L309.6,331.3 L310.2,330.2 L310.8,329.2 L311.4,327.7 L312.0,325.9 L312.6,324.0 L313.2,321.4 L313.8,316.7 L314.4,320.5 L314.6,322.3 L315.0,324.7 L315.6,327.6 L316.2,329.5 L316.4,330.1 L316.8,329.8 L317.4,328.8 L318.0,327.7 L318.4,327.4 L318.6,327.1 L319.1,326.7 L319.8,329.1 L320.4,331.1 L321.0,332.8 L321.3,333.7 L321.6,333.1 L322.2,332.7 L322.8,332.7 L323.4,332.6 L324.0,332.7 L324.6,332.8 L325.2,333.3 L325.8,333.7 L326.4,332.9 L327.0,332.6 L327.6,332.8 L328.2,332.9 L328.8,332.4 L329.4,332.6 L330.0,333.3 L330.6,333.8 L331.2,333.8 L331.8,333.6 L332.4,333.9 L333.0,334.8 L333.6,335.4 L334.2,335.2 L334.8,335.0 L335.2,334.9 L335.4,334.3 L336.0,334.3 L336.6,334.5 L337.2,334.5 L337.8,334.0 L338.4,333.6 L339.0,334.2 L339.6,334.2 L340.1,333.5 L340.8,333.1 L341.4,333.0 L342.0,332.6 L342.6,332.0 L343.2,332.2 L343.8,331.8 L344.4,331.5 L345.0,330.8 L345.6,329.9 L346.2,329.3 L346.4,329.0 L346.8,327.4 L347.1,326.3 L347.4,327.7 L347.8,329.8 L348.0,330.9 L348.6,333.1 L349.2,334.3 L349.8,334.5 L350.4,334.1 L351.0,334.5 L351.6,335.5 L352.2,334.9 L352.8,333.0 L353.4,332.3 L354.0,333.6 L354.6,334.9 L355.2,334.6 L355.8,334.6 L356.4,334.6 L357.0,334.1 L357.6,334.1 L358.2,334.0 L358.4,333.8 L358.8,332.9 L359.1,332.4 L359.4,332.9 L359.8,333.6 L360.0,334.4 L360.6,335.1 L361.2,334.1 L361.8,333.4 L362.4,334.1 L362.9,335.0 L363.6,335.4 L364.2,335.0 L364.8,334.0 L365.4,333.8 L366.0,333.9 L366.6,333.4 L367.2,333.4 L367.8,333.1 L368.4,332.9 L369.0,332.6 L369.5,332.1 L370.2,330.6 L370.8,331.6 L371.4,332.7 L372.0,333.6 L372.6,334.3 L372.8,334.7 L373.2,333.9 L373.8,333.3 L374.4,333.0 L375.0,332.9 L375.6,332.5 L376.2,331.7 L376.5,331.5 L376.8,330.3 L377.2,328.6 L377.4,329.0 L377.9,330.7 L378.6,331.6 L379.2,331.9 L379.8,333.1 L380.1,333.8 L380.4,333.4 L381.0,333.8 L381.6,334.7 L382.2,334.3 L382.8,333.5 L383.4,333.5 L384.0,333.8 L384.6,333.3 L385.2,332.9 L385.8,333.7 L386.4,333.8 L387.0,333.7 L387.6,333.6 L388.2,333.4 L388.8,332.7 L389.4,332.1 L390.0,332.2 L390.6,332.0 L391.2,331.4 L391.8,331.2 L392.4,330.4 L393.0,329.6 L393.6,328.1 L393.8,327.7 L394.2,328.8 L394.5,329.8 L394.8,330.4 L395.4,331.3 L396.0,332.1 L396.3,332.9 L396.6,332.8 L397.2,332.1 L397.8,331.5 L398.4,330.7 L399.0,329.4 L399.4,328.7 L399.6,328.2 L400.1,325.7 L400.8,329.3 L401.4,331.0 L402.0,332.2 L402.6,333.3 L403.0,334.2 L403.2,334.4 L403.8,334.4 L404.4,334.0 L405.0,333.5 L405.6,333.3 L406.2,333.4 L406.8,333.2 L407.4,333.9 L408.0,335.2 L408.6,335.8 L409.2,335.3 L409.8,334.6 L410.4,334.6 L410.6,334.6 L411.0,334.9 L411.6,335.0 L412.2,335.7 L412.8,336.5 L413.4,336.3 L414.0,336.2 L414.6,335.2 L415.2,334.9 L415.8,335.7 L416.4,335.8 L417.0,334.8 L417.6,334.3 L418.2,333.9 L418.8,334.5 L419.4,335.1 L420.0,334.7 L420.6,334.0 L421.2,333.8 L421.8,334.5 L422.4,334.9 L423.0,334.7 L423.6,334.1 L424.0,333.8 L424.2,334.5 L424.8,333.9 L425.4,333.4 L426.0,332.8 L426.6,331.7 L427.2,331.5 L427.8,331.5 L428.4,331.5 L429.0,331.7 L429.6,330.8 L430.2,329.8 L430.8,329.8 L431.4,329.9 L432.0,329.3 L432.5,328.3 L433.2,325.8 L433.8,329.1 L434.4,331.0 L435.0,332.0 L435.5,332.4 L436.2,333.2 L436.8,332.6 L437.4,333.5 L438.0,334.8 L438.6,334.6 L439.2,334.2 L439.8,334.1 L440.2,334.6 L440.4,334.1 L441.0,334.2 L441.6,334.2 L442.2,333.9 L442.8,333.9 L443.4,333.2 L444.0,332.9 L444.6,332.9 L445.2,332.5 L445.8,332.4 L446.2,332.1 L446.4,331.2 L446.9,329.1 L447.6,331.3 L448.2,332.4 L448.8,333.4 L449.4,333.8 L449.8,333.9 L450.0,333.7 L450.6,333.5 L451.2,333.8 L451.8,333.3 L452.4,333.7 L453.0,333.9 L453.6,333.1 L454.2,332.6 L454.8,332.1 L455.4,331.8 L456.0,331.5 L456.6,330.7 L457.2,331.8 L457.4,332.4 L457.8,333.2 L458.4,333.7 L459.0,333.9 L459.6,333.9 L460.2,333.5 L460.8,332.9 L461.4,332.6 L462.0,333.3 L462.6,333.9 L463.2,333.3 L463.8,332.8 L464.4,333.0 L465.0,332.2 L465.6,331.4 L466.2,331.0 L466.8,330.7 L467.4,330.5 L468.0,331.6 L468.2,331.6 L468.6,331.7 L469.2,332.3 L469.8,332.4 L470.4,332.2 L471.0,332.4 L471.6,332.1 L472.2,331.3 L472.7,330.3 L473.4,327.1 L474.0,330.0 L474.6,331.9 L475.2,333.1 L475.8,333.2 L476.3,333.6 L477.0,333.9 L477.6,333.9 L478.2,333.6 L478.8,333.1 L479.4,333.0 L480.0,332.8 L480.6,332.1 L481.2,330.9 L481.8,330.1 L482.2,330.4 L482.4,330.6 L483.0,330.8 L483.6,330.6 L484.2,329.7 L484.8,328.7 L485.4,327.8 L486.0,326.5 L486.6,322.3 L487.2,326.0 L487.4,327.5 L487.8,329.1 L488.4,331.1 L489.0,332.5 L489.6,333.5 L490.1,333.4 L490.8,333.2 L491.4,333.5 L492.0,333.9 L492.6,333.8 L493.2,333.8 L493.8,334.0 L494.4,335.0 L495.0,335.6 L495.6,335.3 L496.2,335.4 L496.8,335.6 L497.4,335.6 L498.0,334.5 L498.6,333.8 L499.2,334.4 L499.8,333.8 L500.4,333.0 L501.0,332.5 L501.6,332.1 L502.2,331.4 L502.4,331.1 L502.8,332.5 L503.1,333.2 L503.4,332.6 L504.0,332.9 L504.6,333.4 L505.2,333.6 L505.8,334.3 L506.4,334.7 L506.8,334.4 L507.0,334.6 L507.6,335.3 L508.2,335.8 L508.8,335.6 L509.4,334.9 L510.0,334.5 L510.6,334.0 L511.2,333.8 L511.7,333.6 L512.4,333.5 L513.0,332.9 L513.6,332.7 L514.2,333.1 L514.8,332.9 L515.4,332.0 L516.0,331.3 L516.2,331.4 L516.6,332.1 L516.9,332.5 L517.2,332.9 L517.8,333.7 L518.4,334.6 L519.0,334.6 L519.5,333.3 L520.2,333.1 L520.8,333.9 L521.4,334.2 L522.0,333.6 L522.6,332.8 L523.2,331.6 L523.7,330.8 L524.4,328.5 L525.0,330.7 L525.6,331.8 L526.2,332.6 L526.8,333.3 L527.4,333.7 L528.0,333.9 L528.6,333.5 L529.2,333.2 L529.8,333.5 L530.4,334.1 L531.0,333.6 L531.6,332.8 L532.2,332.4 L532.8,332.8 L533.4,333.2 L534.0,332.3 L534.2,332.3 L534.6,333.3 L535.2,333.6 L535.8,333.2 L536.4,333.3 L537.0,333.5 L537.6,333.3 L538.2,333.2 L538.8,333.4 L539.4,333.2 L540.0,332.8 L540.6,332.1 L541.2,332.0 L541.4,331.3 L541.8,330.9 L542.1,330.8 L542.4,331.4 L542.8,332.2 L543.0,332.4 L543.6,333.3 L544.2,333.4 L544.8,333.1 L545.4,333.8 L546.0,334.3"/>
<path stroke="#0000ff" d="M51.0,358.4 L51.6,359.1 L52.2,360.1 L52.8,360.0 L53.4,359.6 L54.0,360.1 L54.2,360.4 L54.6,360.7 L55.2,361.1 L55.8,362.0 L56.4,362.9 L56.7,363.5 L57.0,363.1 L57.6,362.3 L58.2,362.0 L58.8,362.3 L59.3,361.6 L60.0,362.5 L60.6,363.5 L61.2,364.3 L61.8,364.4 L62.4,364.6 L63.0,364.5 L63.6,364.3 L64.2,364.1 L64.4,363.2 L64.8,363.3 L65.4,363.8 L66.0,364.1 L66.6,363.6 L66.9,363.9 L67.2,363.8 L67.8,359.9 L68.2,356.8 L68.4,355.2 L69.0,349.0 L69.5,344.2 L70.2,338.2 L70.7,335.6 L71.4,338.2 L72.0,341.6 L72.6,346.2 L73.2,352.0 L73.8,359.0 L74.4,365.1 L75.0,366.8 L75.6,368.0 L76.2,369.0 L76.5,369.7 L76.8,369.1 L77.4,369.0 L78.0,369.2 L78.6,368.9 L79.2,369.0 L79.8,369.6 L80.4,369.6 L81.0,369.4 L81.6,370.0 L82.2,369.9 L82.8,370.1 L83.4,370.7 L84.0,371.0 L84.6,371.2 L85.2,371.1 L85.8,371.2 L86.4,371.3 L87.0,371.4 L87.6,371.9 L88.2,371.4 L88.5,371.4 L88.8,372.6 L89.4,372.0 L90.0,371.7 L90.6,372.5 L91.2,372.4 L91.8,372.2 L92.4,371.7 L93.0,371.3 L93.6,370.7 L94.2,370.5 L94.8,371.2 L95.4,372.1 L96.0,373.1 L96.6,373.5 L97.2,373.0 L97.8,373.1 L98.4,373.0 L98.7,372.6 L99.0,372.1 L99.6,371.9 L100.2,371.5 L100.6,371.1 L100.8,370.9 L101.4,368.6 L102.0,365.6 L102.5,363.3 L103.2,361.2 L103.8,359.5 L104.4,356.3 L105.0,358.6 L105.2,359.8 L105.6,361.6 L106.2,364.0 L106.4,364.7 L106.8,366.3 L107.4,369.0 L108.0,371.0 L108.3,371.4 L108.6,371.6 L109.2,372.5 L109.8,372.9 L110.4,373.1 L111.0,373.4 L111.5,373.2 L112.2,373.2 L112.8,373.6 L113.4,373.2 L114.0,372.7 L114.6,372.6 L114.9,372.5 L115.2,373.0 L115.8,371.7 L116.4,369.8 L117.0,367.9 L117.4,366.5 L117.6,365.5 L118.2,362.8 L118.8,359.7 L119.4,354.7 L120.0,358.4 L120.2,360.3 L120.6,363.1 L121.2,366.5 L121.5,367.8 L121.8,368.7 L122.4,370.4 L123.0,371.7 L123.6,372.2 L123.9,373.0 L124.2,373.8 L124.8,373.7 L125.4,374.4 L126.0,374.7 L126.6,374.3 L127.2,374.2 L127.8,374.1 L128.4,373.9 L129.0,374.1 L129.6,374.5 L130.2,375.0 L130.8,374.9 L131.3,374.5 L132.0,374.6 L132.6,374.2 L133.2,374.3 L133.8,374.7 L134.4,374.5 L135.0,374.5 L135.6,374.5 L136.2,374.1 L136.8,374.0 L137.4,374.5 L138.0,374.9 L138.6,375.1 L139.2,375.5 L139.5,374.4 L139.8,372.9 L140.4,374.0 L141.0,375.2 L141.6,374.7 L142.2,373.9 L142.8,374.0 L143.4,374.8 L144.0,374.8 L144.6,374.4 L145.2,374.2 L145.8,374.3 L146.0,373.8 L146.4,372.9 L147.0,372.0 L147.6,370.2 L148.2,367.9 L148.8,365.2 L149.3,362.6 L150.0,355.9 L150.6,347.9 L151.2,341.1 L151.7,338.8 L152.4,341.4 L153.0,346.2 L153.4,349.5 L153.6,351.4 L154.2,358.5 L154.8,364.7 L155.0,365.8 L155.4,367.6 L156.0,370.2 L156.6,372.1 L157.2,373.0 L157.5,372.8 L157.8,372.8 L158.4,373.7 L159.0,374.0 L159.6,373.5 L160.2,373.6 L160.8,373.2 L161.4,373.6 L162.0,374.1 L162.6,373.4 L163.2,373.4 L163.8,374.4 L164.4,374.9 L165.0,374.7 L165.6,374.9 L166.2,374.8 L166.8,375.3 L167.4,375.0 L168.0,374.8 L168.6,374.9 L169.2,375.2 L169.8,375.9 L170.4,376.1 L171.0,375.1 L171.6,374.1 L172.2,373.5 L172.8,373.7 L173.4,374.1 L173.8,374.1 L174.0,374.1 L174.6,372.8 L175.2,370.5 L175.8,367.7 L176.3,365.8 L177.0,363.8 L177.6,361.5 L178.2,357.4 L178.4,357.1 L178.8,359.1 L179.1,361.5 L179.4,363.0 L180.0,366.0 L180.4,367.7 L180.6,368.6 L181.2,371.1 L181.8,372.8 L182.0,373.2 L182.4,373.6 L183.0,373.4 L183.6,373.4 L184.2,373.8 L184.8,374.3 L185.4,374.9 L186.0,375.0 L186.6,374.6 L186.9,374.4 L187.2,373.8 L187.8,372.7 L188.4,370.9 L189.0,368.5 L189.6,365.6 L190.2,362.7 L190.8,359.0 L191.4,354.2 L192.0,349.9 L192.6,347.8 L193.2,350.5 L193.8,356.0 L194.4,362.3 L195.0,367.1 L195.6,369.9 L196.2,372.3 L196.7,373.1 L197.4,373.5 L198.0,373.6 L198.6,373.2 L199.2,373.8 L199.8,374.1 L200.4,373.5 L201.0,373.4 L201.6,373.1 L202.2,373.4 L202.8,374.0 L203.2,374.2 L203.4,373.4 L204.0,373.6 L204.6,373.8 L205.2,373.3 L205.8,373.4 L206.4,373.4 L207.0,373.7 L207.6,374.5 L208.1,375.3 L208.8,374.7 L209.4,373.6 L210.0,372.1 L210.5,370.9 L211.2,369.5 L211.8,368.2 L212.3,366.8 L213.0,364.3 L213.6,366.0 L214.2,367.2 L214.8,368.5 L215.4,369.8 L216.0,368.7 L216.6,366.0 L217.2,362.4 L217.8,358.3 L218.4,353.1 L219.0,346.3 L219.5,341.4 L220.2,335.4 L220.8,332.4 L221.4,336.9 L222.0,346.3 L222.6,353.9 L223.2,361.0 L223.6,364.2 L223.8,365.4 L224.4,368.4 L225.0,371.0 L225.6,373.0 L226.1,373.3 L226.8,373.5 L227.4,373.8 L228.0,373.7 L228.6,373.8 L229.2,373.7 L229.4,374.0 L229.8,373.8 L230.4,373.4 L231.0,373.5 L231.6,372.8 L231.9,372.2 L232.2,371.6 L232.6,370.8 L232.8,371.4 L233.3,372.4 L234.0,373.0 L234.6,372.8 L235.1,373.1 L235.8,373.6 L236.4,373.0 L237.0,372.4 L237.6,371.7 L238.2,370.5 L238.8,367.9 L239.4,369.6 L239.6,370.7 L240.0,371.4 L240.6,372.3 L241.2,373.0 L241.6,373.1 L241.8,373.8 L242.4,374.0 L243.0,373.6 L243.6,373.1 L244.2,372.9 L244.8,373.8 L245.4,373.8 L245.7,373.8 L246.0,373.6 L246.6,371.3 L247.2,367.7 L247.8,363.5 L248.2,360.9 L248.4,359.7 L249.0,353.5 L249.6,347.3 L250.2,343.7 L250.8,345.0 L251.4,349.9 L252.0,355.4 L252.3,357.6 L252.6,359.8 L253.2,364.5 L253.8,368.6 L254.2,370.0 L254.4,369.6 L255.0,370.2 L255.6,371.2 L256.2,371.7 L256.8,372.0 L257.2,372.5 L257.4,372.5 L258.0,372.5 L258.6,372.9 L259.2,372.9 L259.8,372.7 L260.4,373.2 L261.0,374.6 L261.6,375.3 L262.1,375.4 L262.8,374.3 L263.4,374.2 L264.0,374.5 L264.6,374.4 L265.2,374.3 L265.8,373.8 L266.4,372.9 L267.0,372.0 L267.6,372.4 L268.2,372.5 L268.8,371.8 L269.4,370.8 L270.0,369.5 L270.3,368.9 L270.6,368.5 L271.2,368.2 L271.8,367.6 L272.4,366.8 L273.0,364.9 L273.6,366.7 L273.8,367.6 L274.2,368.8 L274.8,370.5 L275.4,371.4 L276.0,371.9 L276.6,372.8 L277.2,373.5 L277.6,373.0 L277.8,372.4 L278.4,371.8 L279.0,370.9 L279.6,369.6 L279.9,368.9 L280.2,368.6 L280.8,367.4 L281.4,365.8 L281.7,365.1 L282.0,363.4 L282.4,361.3 L282.6,362.1 L283.1,364.8 L283.8,366.8 L284.4,367.7 L285.0,366.6 L285.6,363.4 L286.2,359.4 L286.5,357.6 L286.8,355.8 L287.4,351.6 L288.0,348.2 L288.4,346.9 L288.6,347.7 L289.2,351.2 L289.4,352.7 L289.8,357.3 L290.4,365.0 L291.0,368.8 L291.6,371.9 L292.2,372.6 L292.8,372.2 L293.4,372.0 L294.0,372.0 L294.6,372.0 L295.2,371.8 L295.8,371.3 L296.4,370.8 L297.0,369.4 L297.6,370.8 L297.8,371.4 L298.2,371.6 L298.8,372.8 L299.4,373.7 L300.0,373.5 L300.4,373.4 L300.6,373.3 L301.2,373.0 L301.8,372.6 L302.4,372.2 L302.9,372.2 L303.6,371.4 L304.2,372.3 L304.8,373.4 L305.4,373.9 L306.0,373.9 L306.6,374.0 L307.2,375.0 L307.7,374.7 L308.4,372.6 L309.0,370.7 L309.4,369.9 L309.6,369.8 L310.2,368.5 L310.6,367.2 L310.8,366.4 L311.3,364.9 L312.0,367.4 L312.6,369.2 L313.2,370.5 L313.5,370.8 L313.8,370.8 L314.4,370.4 L315.0,370.6 L315.6,371.3 L315.9,371.6 L316.2,371.9 L316.8,372.7 L317.4,373.0 L318.0,373.3 L318.4,373.7 L318.6,374.1 L319.2,374.6 L319.8,375.3 L320.4,375.6 L321.0,375.9 L321.6,375.8 L322.2,375.7 L322.5,375.9 L322.8,375.5 L323.4,375.2 L324.0,374.9 L324.6,375.1 L325.2,375.2 L325.8,375.6 L326.4,376.5 L327.0,376.8 L327.6,376.0 L328.2,375.3 L328.8,375.4 L329.0,375.1 L329.4,374.7 L330.0,374.9 L330.6,375.1 L331.2,375.5 L331.8,376.2 L332.4,376.1 L333.0,376.2 L333.6,376.6 L333.9,376.0 L334.2,375.6 L334.8,375.9 L335.4,376.6 L336.0,376.8 L336.6,376.5 L337.2,375.9 L337.8,375.9 L338.4,376.1 L339.0,375.5 L339.6,375.3 L340.2,375.1 L340.5,375.2 L340.8,375.7 L341.4,375.3 L342.0,374.4 L342.6,374.3 L343.2,373.7 L343.8,372.9 L344.4,370.8 L345.0,372.1 L345.2,372.8 L345.6,373.8 L346.2,374.9 L346.8,375.4 L347.0,375.7 L347.4,375.6 L348.0,375.4 L348.6,376.3 L349.2,375.9 L349.8,374.7 L350.4,375.5 L351.0,377.1 L351.6,377.4 L352.2,376.2 L352.8,375.3 L353.4,375.9 L354.0,376.6 L354.6,376.1 L355.2,375.4 L355.8,375.2 L356.0,375.7 L356.4,375.6 L357.0,375.7 L357.6,376.2 L358.2,376.6 L358.8,376.3 L359.4,375.7 L360.0,375.5 L360.6,376.5 L361.2,376.9 L361.8,376.0 L362.3,375.0 L363.0,375.6 L363.6,376.6 L364.2,377.1 L364.8,376.6 L365.4,376.2 L366.0,376.0 L366.6,375.4 L367.2,373.7 L367.4,372.8 L367.8,374.0 L368.1,374.6 L368.4,375.0 L369.0,375.5 L369.6,375.7 L370.2,376.0 L370.5,376.4 L370.8,377.1 L371.4,376.9 L372.0,377.3 L372.6,376.7 L373.2,375.4 L373.8,375.3 L374.3,374.7 L375.0,372.7 L375.6,374.3 L376.2,375.0 L376.8,375.2 L377.4,375.3 L378.0,375.7 L378.6,376.1 L379.2,375.9 L379.8,375.7 L380.4,375.7 L381.0,375.7 L381.6,375.6 L382.2,375.3 L382.8,376.5 L383.4,376.7 L384.0,376.7 L384.6,376.6 L385.2,376.4 L385.8,377.0 L386.4,376.3 L387.0,376.2 L387.6,376.4 L388.2,376.2 L388.8,375.2 L389.4,374.4 L390.0,373.8 L390.3,373.2 L390.6,372.8 L391.0,372.0 L391.2,372.4 L391.7,373.6 L392.4,374.1 L393.0,374.6 L393.6,374.8 L394.1,375.2 L394.8,375.3 L395.4,374.7 L396.0,374.3 L396.6,373.7 L397.0,373.7 L397.2,373.5 L397.7,371.9 L398.4,374.0 L399.0,375.0 L399.6,375.8 L400.2,376.3 L400.8,376.0 L401.4,375.6 L402.0,375.7 L402.6,377.0 L403.2,377.7 L403.8,377.7 L404.4,377.8 L405.0,377.3 L405.6,377.4 L406.2,377.9 L406.8,377.4 L407.4,377.5 L408.0,377.6 L408.6,377.7 L409.2,377.7 L409.8,376.8 L410.4,376.0 L411.0,375.4 L411.6,375.5 L412.2,375.8 L412.8,376.0 L413.2,376.2 L413.4,376.3 L414.0,375.7 L414.6,375.5 L415.2,376.4 L415.8,376.8 L416.4,376.4 L417.0,376.9 L417.6,378.2 L418.2,378.5 L418.6,378.4 L418.8,378.0 L419.4,377.4 L420.0,377.1 L420.6,377.2 L421.2,376.8 L421.8,376.4 L422.4,376.2 L423.0,376.1 L423.6,375.9 L424.2,375.6 L424.8,375.8 L425.0,374.9 L425.4,374.6 L426.0,374.8 L426.6,374.1 L427.2,373.8 L427.8,373.2 L428.4,372.3 L429.0,372.1 L429.2,372.2 L429.6,371.2 L429.9,371.0 L430.2,371.5 L430.6,373.1 L430.8,373.6 L431.4,374.4 L432.0,375.1 L432.3,375.2 L432.6,374.9 L433.2,375.5 L433.8,376.4 L434.4,376.3 L435.0,375.6 L435.6,376.0 L436.2,376.9 L436.8,377.3 L437.4,377.0 L438.0,375.8 L438.6,375.7 L439.2,376.2 L439.8,376.2 L440.4,376.3 L441.0,376.4 L441.6,376.2 L442.2,375.8 L442.8,375.6 L443.4,375.2 L444.0,373.3 L444.6,374.1 L444.8,374.9 L445.2,375.4 L445.8,376.0 L446.4,376.1 L446.8,375.6 L447.0,376.1 L447.6,375.8 L448.2,375.8 L448.8,376.6 L449.4,376.4 L450.0,376.4 L450.6,376.9 L451.2,376.6 L451.8,375.3 L452.4,375.3 L453.0,376.0 L453.5,375.0 L454.2,374.2 L454.8,375.5 L455.4,376.5 L456.0,376.8 L456.6,376.6 L457.2,376.5 L457.8,376.7 L458.4,376.7 L458.9,376.6 L459.6,376.9 L460.2,376.8 L460.8,376.4 L461.4,376.9 L462.0,377.0 L462.6,376.1 L463.2,374.9 L463.8,375.1 L464.4,375.0 L464.6,374.8 L465.0,374.1 L465.3,373.3 L465.6,374.2 L466.0,374.9 L466.2,375.0 L466.8,376.0 L467.4,376.4 L467.6,375.9 L468.0,375.4 L468.6,375.6 L469.2,375.4 L469.8,374.3 L470.0,373.6 L470.4,372.8 L470.7,373.3 L471.0,372.8 L471.4,374.0 L471.6,374.0 L472.2,375.1 L472.8,376.1 L473.4,376.9 L474.0,377.0 L474.6,376.2 L475.2,375.7 L475.8,375.9 L476.4,376.2 L477.0,376.7 L477.6,376.3 L478.2,376.5 L478.8,376.6 L479.4,376.1 L480.0,376.1 L480.6,375.5 L481.2,374.6 L481.8,373.9 L482.4,373.5 L483.0,372.5 L483.3,371.6 L483.6,370.2 L484.0,368.0 L484.2,368.6 L484.7,371.4 L485.4,373.1 L486.0,374.3 L486.6,375.2 L487.1,375.6 L487.8,376.6 L488.4,376.7 L489.0,376.0 L489.6,375.7 L490.2,376.4 L490.8,377.0 L491.4,377.6 L492.0,378.2 L492.6,378.4 L493.2,377.9 L493.5,377.7 L493.8,377.2 L494.4,377.4 L495.0,377.9 L495.6,377.4 L496.2,376.9 L496.8,376.8 L497.4,376.8 L498.0,376.7 L498.6,375.9 L499.1,375.4 L499.8,374.2 L500.4,375.5 L501.0,376.2 L501.6,377.0 L502.2,377.0 L502.5,376.7 L502.8,378.0 L503.4,378.7 L504.0,379.3 L504.6,379.2 L505.2,377.9 L505.8,377.6 L506.4,378.2 L507.0,378.5 L507.6,378.0 L508.0,378.0 L508.2,378.4 L508.8,377.9 L509.4,378.0 L510.0,378.2 L510.6,377.8 L511.2,377.6 L511.8,376.8 L512.4,376.0 L513.0,375.9 L513.6,375.9 L514.2,375.7 L514.8,375.7 L515.3,375.7 L516.0,375.5 L516.6,375.1 L517.2,374.7 L517.8,374.5 L518.4,374.3 L519.0,374.4 L519.6,374.3 L520.2,373.5 L520.8,373.1 L521.4,371.8 L521.6,371.3 L522.0,372.9 L522.3,373.8 L522.6,374.3 L523.2,374.8 L523.8,375.2 L524.4,375.4 L525.0,375.6 L525.6,375.7 L526.2,375.7 L526.8,376.2 L527.4,376.6 L528.0,376.4 L528.6,376.1 L529.2,375.8 L529.8,375.3 L530.4,374.9 L531.0,375.2 L531.6,375.4 L532.2,375.2 L532.8,375.9 L533.4,375.7 L534.0,375.2 L534.6,375.5 L535.2,376.0 L535.8,376.0 L536.4,376.1 L537.0,376.8 L537.6,376.6 L538.2,375.4 L538.8,375.3 L539.4,375.0 L540.0,375.1 L540.6,376.0 L541.2,377.0 L541.8,377.1 L542.4,377.3 L543.0,378.0 L543.6,377.7 L544.2,377.4 L544.8,377.5 L545.4,376.7 L546.0,375.7"/>
</g>
<rect x="43" y="4" width="503.3" height="404.8" fill="none" stroke="#000" stroke-width="2"/>
<g stroke="#000" stroke-width="2">
<line x1="102.2" y1="409" x2="102.2" y2="417"/>
<line x1="187.5" y1="409" x2="187.5" y2="417"/>
<line x1="272.8" y1="409" x2="272.8" y2="417"/>
<line x1="358.1" y1="409" x2="358.1" y2="417"/>
<line x1="443.4" y1="409" x2="443.4" y2="417"/>
<line x1="528.7" y1="409" x2="528.7" y2="417"/>
<line x1="59.6" y1="409" x2="59.6" y2="413"/>
<line x1="144.8" y1="409" x2="144.8" y2="413"/>
<line x1="230.1" y1="409" x2="230.1" y2="413"/>
<line x1="315.4" y1="409" x2="315.4" y2="413"/>
<line x1="400.7" y1="409" x2="400.7" y2="413"/>
<line x1="486.0" y1="409" x2="486.0" y2="413"/>
</g>
<g font-size="15" fill="#000" stroke="#000" stroke-width="0.3">
<text x="102.2" y="432.6" text-anchor="middle">10</text>
<text x="187.5" y="432.6" text-anchor="middle">20</text>
<text x="272.8" y="432.6" text-anchor="middle">30</text>
<text x="358.1" y="432.6" text-anchor="middle">40</text>
<text x="443.4" y="432.6" text-anchor="middle">50</text>
<text x="528.7" y="432.6" text-anchor="middle">60</text>
</g>
<g font-size="14.5" fill="#000" stroke="#000" stroke-width="0.3">
<text transform="translate(79.85,29.7) rotate(-90) scale(1.07,1)" text-anchor="middle">(111)</text>
<text transform="translate(111.2,58.95) rotate(-90) scale(1.07,1)" text-anchor="middle">(220)</text>
<text transform="translate(131.85,62.1) rotate(-90) scale(1.07,1)" text-anchor="middle">(311)</text>
<text transform="translate(161.35,44.95) rotate(-90) scale(1.07,1)" text-anchor="middle">(331)</text>
<text transform="translate(182.95,65.65) rotate(-90) scale(1.07,1)" text-anchor="middle">(511)</text>
<text transform="translate(201.55,58.7) rotate(-90) scale(1.07,1)" text-anchor="middle">(440)</text>
<text transform="translate(229.45,52.85) rotate(-90) scale(1.07,1)" text-anchor="middle">(533)</text>
<text transform="translate(258.25,60.7) rotate(-90) scale(1.07,1)" text-anchor="middle">(642)</text>
<text transform="translate(296.95,60.3) rotate(-90) scale(1.07,1)" text-anchor="middle">(555)</text>
</g>
<g font-size="16" font-weight="bold" fill="#000">
<text x="539.5" y="123.7" text-anchor="end">ZY45</text>
<text x="536.8" y="240.6" text-anchor="end">ZY34</text>
<text x="538.9" y="312.9" text-anchor="end">ZY17</text>
<text x="539.0" y="359.7" text-anchor="end">ZY7</text>
</g>
<text x="293.75" y="464.8" text-anchor="middle" font-size="17.65" font-weight="bold">2 theta (degree)</text>
<text transform="translate(16.3,208.7) rotate(-90) scale(1.055,1)" text-anchor="middle" font-size="17.5" font-weight="bold">Relative intensity (a.u.)</text>
</svg>
</body></html>
